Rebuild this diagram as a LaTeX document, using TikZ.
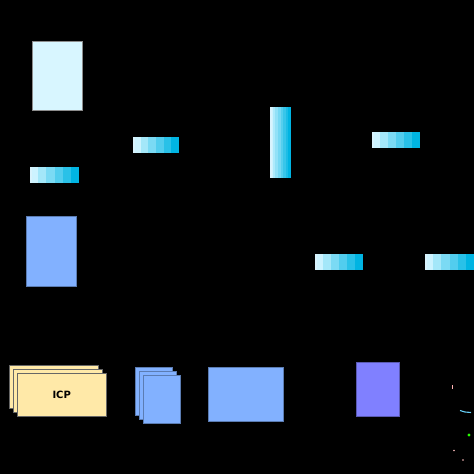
\documentclass[tikz,border=0pt]{standalone}
\usepackage{fontspec}
\setsansfont{DejaVu Sans}
\usetikzlibrary{positioning}
\definecolor{inputcyan}{HTML}{D8F6FF}
\definecolor{featblue}{HTML}{82B1FF}
\definecolor{maskviolet}{HTML}{8080FF}
\definecolor{icpyellow}{HTML}{FFE9A8}
\definecolor{barlight}{HTML}{CDF3FF}
\definecolor{bardark}{HTML}{00B4E2}
\tikzstyle{block} = [rectangle, draw=black!45, line width=0.4pt, inner sep=0pt, anchor=north west]
\tikzstyle{card} = [block, fill=icpyellow, draw=black!60, minimum width=89pt, minimum height=43pt]
\tikzstyle{sheet} = [block, fill=featblue, draw=featblue!70!black, minimum width=37pt, minimum height=48pt]
% strip bar: x, y, width, height, number of strips
\newcommand{\featbar}[5]{%
  \foreach \i in {1,...,#5}{
    \pgfmathtruncatemacro{\mix}{100-100*(\i-1)/(#5-1)}
    \fill[barlight!\mix!bardark] ({#1+(\i-1)*#3/#5},#2) rectangle ++(#3/#5,#4);
  }
  \fill[white!85!cyan] (#1,#2) rectangle ++(1.5,#4);}

\begin{document}
\begin{tikzpicture}[x=1pt, y=-1pt]
    \fill[black] (0,0) rectangle (474,474);

    \node (input) [block, fill=inputcyan, minimum width=50pt, minimum height=69pt] at (32,41) {};
    \node (feature) [block, fill=featblue, draw=featblue!70!black, minimum width=50pt, minimum height=70pt] at (26,216) {};

    \featbar{30}{167}{49}{16}{6}
    \featbar{133}{137}{46}{16}{6}
    \featbar{270}{107}{21}{71}{8}
    \featbar{372}{132}{48}{16}{6}
    \featbar{315}{254}{48}{16}{6}
    \featbar{425}{254}{49}{16}{6}

    \node (icp3) [card] at (9,365) {};
    \node (icp2) [card] at ([shift={(4,4)}]icp3.north west) {};
    \node (icp) [card] at ([shift={(4,4)}]icp2.north west) {\fontsize{10}{12}\sffamily\bfseries ICP};

    \node (stack3) [sheet] at (135,367) {};
    \node (stack2) [sheet] at ([shift={(4,4)}]stack3.north west) {};
    \node (stack) [sheet] at ([shift={(4,4)}]stack2.north west) {};

    \node (fused) [block, fill=featblue, draw=featblue!70!black, minimum width=75pt, minimum height=54pt] at (208,367) {};
    \node (mask) [block, fill=maskviolet, draw=maskviolet!70!black, minimum width=43pt, minimum height=54pt] at (356,362) {};

    % point cloud specks
    \fill[red!30!white] (451.5,385) rectangle ++(1.2,4);
    \draw[cyan!60!white, line width=1.1pt] (460,410.5) -- (465,412) -- (471,412.5);
    \fill[green!80!lime] (469,435) circle (1.6);
    \fill[pink] (454,450.5) circle (0.8);
    \fill[pink] (463,460) circle (0.8);
\end{tikzpicture}
\end{document}
